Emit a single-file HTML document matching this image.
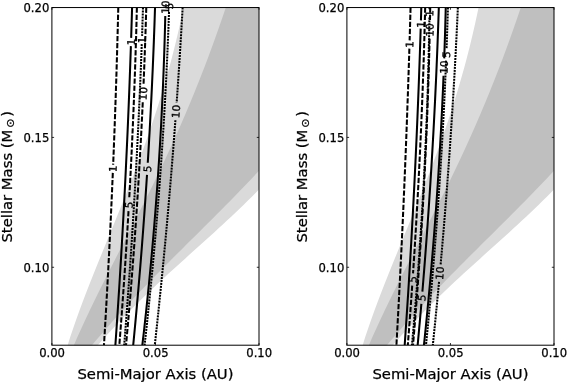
<!DOCTYPE html>
<html><head><meta charset="utf-8"><title>Habitable zone contours</title>
<style>
html,body{margin:0;padding:0;background:#fff;}
body{width:568px;height:382px;overflow:hidden;}
svg{display:block;font-family:"DejaVu Sans","Liberation Sans",sans-serif;}
</style></head><body>
<svg width="568" height="382" viewBox="0 0 568 382">
<rect width="568" height="382" fill="#fff"/>
<defs>
<clipPath id="c0"><rect x="51.9" y="7.55" width="207.1" height="337.65"/></clipPath>
<clipPath id="c1"><rect x="346.9" y="7.55" width="207.1" height="337.65"/></clipPath>
</defs>
<g clip-path="url(#c0)">
<polygon points="67.39,346.10 70.14,337.37 73.03,328.63 76.05,319.90 79.19,311.17 82.43,302.43 85.76,293.70 89.17,284.97 92.63,276.23 96.14,267.50 99.69,258.77 103.26,250.03 106.85,241.30 110.44,232.57 114.02,223.83 117.59,215.10 121.13,206.37 124.64,197.63 128.11,188.90 131.53,180.17 134.90,171.43 138.21,162.70 141.45,153.97 144.63,145.23 147.72,136.50 150.74,127.77 153.68,119.03 156.54,110.30 159.30,101.57 161.98,92.83 164.57,84.10 167.08,75.37 169.49,66.63 171.81,57.90 174.05,49.17 176.19,40.43 178.26,31.70 180.25,22.97 182.15,14.23 183.99,5.50 261.00,5.50 260.50,187.96 256.31,192.22 252.12,196.42 247.93,200.56 243.74,204.65 239.55,208.69 235.36,212.68 231.17,216.64 226.98,220.56 222.79,224.44 218.60,228.30 214.41,232.14 210.22,235.95 206.03,239.75 201.84,243.53 197.65,247.31 193.46,251.08 189.27,254.86 185.08,258.64 180.89,262.42 176.71,266.22 172.52,270.04 168.33,273.87 164.14,277.73 159.95,281.62 155.76,285.54 151.57,289.50 147.38,293.49 143.19,297.54 139.00,301.63 134.81,305.77 130.62,309.98 126.43,314.24 122.24,318.57 118.05,322.96 113.86,327.43 109.67,331.98 105.48,336.61 101.29,341.32 97.10,346.13" fill="#dadada"/>
<polygon points="73.53,346.10 77.30,337.37 81.20,328.63 85.22,319.90 89.34,311.17 93.55,302.43 97.84,293.70 102.18,284.97 106.58,276.23 111.01,267.50 115.46,258.77 119.93,250.03 124.41,241.30 128.88,232.57 133.34,223.83 137.77,215.10 142.17,206.37 146.54,197.63 150.86,188.90 155.14,180.17 159.36,171.43 163.52,162.70 167.61,153.97 171.64,145.23 175.60,136.50 179.49,127.77 183.30,119.03 187.04,110.30 190.70,101.57 194.29,92.83 197.80,84.10 201.25,75.37 204.62,66.63 207.92,57.90 211.15,49.17 214.33,40.43 217.44,31.70 220.51,22.97 223.53,14.23 226.50,5.50 261.00,5.50 260.50,169.11 256.16,173.78 251.81,178.41 247.47,183.00 243.13,187.54 238.78,192.04 234.44,196.51 230.09,200.95 225.75,205.36 221.41,209.75 217.06,214.11 212.72,218.46 208.38,222.79 204.03,227.11 199.69,231.42 195.35,235.72 191.00,240.03 186.66,244.33 182.32,248.64 177.97,252.96 173.63,257.30 169.28,261.64 164.94,266.01 160.60,270.40 156.25,274.81 151.91,279.25 147.57,283.72 143.22,288.23 138.88,292.77 134.54,297.36 130.19,301.99 125.85,306.67 121.51,311.41 117.16,316.19 112.82,321.04 108.47,325.95 104.13,330.92 99.79,335.96 95.44,341.08 91.10,346.26" fill="#bfbfbf"/>
</g>
<g clip-path="url(#c1)">
<polygon points="362.39,346.10 365.14,337.37 368.03,328.63 371.05,319.90 374.19,311.17 377.43,302.43 380.76,293.70 384.17,284.97 387.63,276.23 391.14,267.50 394.69,258.77 398.26,250.03 401.85,241.30 405.44,232.57 409.02,223.83 412.59,215.10 416.13,206.37 419.64,197.63 423.11,188.90 426.53,180.17 429.90,171.43 433.21,162.70 436.45,153.97 439.63,145.23 442.72,136.50 445.74,127.77 448.68,119.03 451.54,110.30 454.30,101.57 456.98,92.83 459.57,84.10 462.08,75.37 464.49,66.63 466.81,57.90 469.05,49.17 471.19,40.43 473.26,31.70 475.25,22.97 477.15,14.23 478.99,5.50 556.00,5.50 555.50,187.96 551.31,192.22 547.12,196.42 542.93,200.56 538.74,204.65 534.55,208.69 530.36,212.68 526.17,216.64 521.98,220.56 517.79,224.44 513.60,228.30 509.41,232.14 505.22,235.95 501.03,239.75 496.84,243.53 492.65,247.31 488.46,251.08 484.27,254.86 480.08,258.64 475.89,262.42 471.71,266.22 467.52,270.04 463.33,273.87 459.14,277.73 454.95,281.62 450.76,285.54 446.57,289.50 442.38,293.49 438.19,297.54 434.00,301.63 429.81,305.77 425.62,309.98 421.43,314.24 417.24,318.57 413.05,322.96 408.86,327.43 404.67,331.98 400.48,336.61 396.29,341.32 392.10,346.13" fill="#dadada"/>
<polygon points="368.53,346.10 372.30,337.37 376.20,328.63 380.22,319.90 384.34,311.17 388.55,302.43 392.84,293.70 397.18,284.97 401.58,276.23 406.01,267.50 410.46,258.77 414.93,250.03 419.41,241.30 423.88,232.57 428.34,223.83 432.77,215.10 437.17,206.37 441.54,197.63 445.86,188.90 450.14,180.17 454.36,171.43 458.52,162.70 462.61,153.97 466.64,145.23 470.60,136.50 474.49,127.77 478.30,119.03 482.04,110.30 485.70,101.57 489.29,92.83 492.80,84.10 496.25,75.37 499.62,66.63 502.92,57.90 506.15,49.17 509.33,40.43 512.44,31.70 515.51,22.97 518.53,14.23 521.50,5.50 556.00,5.50 555.50,169.11 551.16,173.78 546.81,178.41 542.47,183.00 538.13,187.54 533.78,192.04 529.44,196.51 525.09,200.95 520.75,205.36 516.41,209.75 512.06,214.11 507.72,218.46 503.38,222.79 499.03,227.11 494.69,231.42 490.35,235.72 486.00,240.03 481.66,244.33 477.32,248.64 472.97,252.96 468.63,257.30 464.28,261.64 459.94,266.01 455.60,270.40 451.25,274.81 446.91,279.25 442.57,283.72 438.22,288.23 433.88,292.77 429.54,297.36 425.19,301.99 420.85,306.67 416.51,311.41 412.16,316.19 407.82,321.04 403.47,325.95 399.13,330.92 394.79,335.96 390.44,341.08 386.10,346.26" fill="#bfbfbf"/>
</g>
<g clip-path="url(#c0)" fill="none" stroke="#000" stroke-width="2.05">
<path d="M118.28,7.55 L118.14,13.27 L117.99,19.00 L117.85,24.72 L117.70,30.44 L117.54,36.16 L117.39,41.89 L117.23,47.61 L117.06,53.33 L116.89,59.06 L116.72,64.78 L116.55,70.50 L116.37,76.22 L116.19,81.95 L116.00,87.67 L115.81,93.39 L115.62,99.12 L115.42,104.84 L115.22,110.56 L115.02,116.28 L114.81,122.01 L114.60,127.73 L114.39,133.45 L114.17,139.18 L113.95,144.90 L113.72,150.62 L113.49,156.34 L113.26,162.07 L113.15,164.70" stroke-dasharray="5.3 1.8"/>
<path d="M112.81,172.90 L112.79,173.51 L112.54,179.24 L112.30,184.96 L112.05,190.68 L111.79,196.41 L111.54,202.13 L111.28,207.85 L111.01,213.57 L110.75,219.30 L110.48,225.02 L110.20,230.74 L109.92,236.47 L109.64,242.19 L109.36,247.91 L109.07,253.63 L108.77,259.36 L108.48,265.08 L108.18,270.80 L107.88,276.53 L107.57,282.25 L107.26,287.97 L106.95,293.69 L106.63,299.42 L106.31,305.14 L105.98,310.86 L105.66,316.59 L105.32,322.31 L104.99,328.03 L104.65,333.75 L104.31,339.48 L103.96,345.20" stroke-dasharray="5.3 1.8"/>
<path d="M132.08,7.55 L131.92,13.27 L131.75,19.00 L131.57,24.72 L131.39,30.44 L131.21,36.16 L131.16,37.90" />
<path d="M130.89,46.10 L130.84,47.61 L130.64,53.33 L130.44,59.06 L130.24,64.78 L130.03,70.50 L129.82,76.22 L129.61,81.95 L129.39,87.67 L129.17,93.39 L128.94,99.12 L128.71,104.84 L128.48,110.56 L128.24,116.28 L128.00,122.01 L127.75,127.73 L127.50,133.45 L127.24,139.18 L126.98,144.90 L126.72,150.62 L126.45,156.34 L126.18,162.07 L125.91,167.79 L125.63,173.51 L125.35,179.24 L125.06,184.96 L124.77,190.68 L124.47,196.41 L124.17,202.13 L123.87,207.85 L123.56,213.57 L123.25,219.30 L122.93,225.02 L122.61,230.74 L122.29,236.47 L121.96,242.19 L121.63,247.91 L121.30,253.63 L120.96,259.36 L120.61,265.08 L120.26,270.80 L119.91,276.53 L119.56,282.25 L119.20,287.97 L118.83,293.69 L118.46,299.42 L118.09,305.14 L117.71,310.86 L117.33,316.59 L116.95,322.31 L116.56,328.03 L116.17,333.75 L115.77,339.48 L115.37,345.20" />
<path d="M136.89,7.55 L136.75,13.27 L136.60,19.00 L136.44,24.72 L136.28,30.44 L136.12,36.16 L135.95,41.89 L135.77,47.61 L135.59,53.33 L135.40,59.06 L135.21,64.78 L135.02,70.50 L134.81,76.22 L134.61,81.95 L134.39,87.67 L134.17,93.39 L133.95,99.12 L133.72,104.84 L133.49,110.56 L133.25,116.28 L133.00,122.01 L132.75,127.73 L132.50,133.45 L132.24,139.18 L131.97,144.90 L131.70,150.62 L131.42,156.34 L131.14,162.07 L130.85,167.79 L130.56,173.51 L130.26,179.24 L129.96,184.96 L129.65,190.68 L129.34,196.41 L129.20,198.90" stroke-dasharray="5.3 1.8"/>
<path d="M128.51,211.10 L128.37,213.57 L128.03,219.30 L127.69,225.02 L127.35,230.74 L126.99,236.47 L126.64,242.19 L126.28,247.91 L125.91,253.63 L125.54,259.36 L125.16,265.08 L124.78,270.80 L124.39,276.53 L124.00,282.25 L123.60,287.97 L123.20,293.69 L122.79,299.42 L122.37,305.14 L121.95,310.86 L121.53,316.59 L121.10,322.31 L120.66,328.03 L120.22,333.75 L119.78,339.48 L119.33,345.20" stroke-dasharray="5.3 1.8"/>
<path d="M142.99,7.55 L142.81,13.27 L142.63,19.00 L142.44,24.72 L142.24,30.44 L142.05,35.90" stroke-dasharray="2.0 0.97"/>
<path d="M141.76,44.10 L141.63,47.61 L141.42,53.33 L141.20,59.06 L140.97,64.78 L140.75,70.50 L140.51,76.22 L140.27,81.95 L140.03,87.67 L139.79,93.39 L139.53,99.12 L139.28,104.84 L139.01,110.56 L138.75,116.28 L138.48,122.01 L138.20,127.73 L137.92,133.45 L137.63,139.18 L137.34,144.90 L137.05,150.62 L136.75,156.34 L136.44,162.07 L136.14,167.79 L135.82,173.51 L135.50,179.24 L135.18,184.96 L134.85,190.68 L134.52,196.41 L134.18,202.13 L133.84,207.85 L133.49,213.57 L133.14,219.30 L132.78,225.02 L132.42,230.74 L132.05,236.47 L131.68,242.19 L131.30,247.91 L130.92,253.63 L130.54,259.36 L130.15,265.08 L129.75,270.80 L129.35,276.53 L128.95,282.25 L128.54,287.97 L128.12,293.69 L127.70,299.42 L127.28,305.14 L126.85,310.86 L126.42,316.59 L125.98,322.31 L125.54,328.03 L125.09,333.75 L124.64,339.48 L124.18,345.20" stroke-dasharray="2.0 0.97"/>
<path d="M146.27,7.55 L146.10,13.27 L145.93,19.00 L145.76,24.72 L145.57,30.44 L145.38,36.16 L145.19,41.89 L144.98,47.61 L144.78,53.33 L144.56,59.06 L144.34,64.78 L144.11,70.50 L143.88,76.22 L143.64,81.95 L143.52,84.90" stroke-dasharray="5.3 1.8"/>
<path d="M142.74,102.30 L142.63,104.84 L142.36,110.56 L142.08,116.28 L141.80,122.01 L141.51,127.73 L141.22,133.45 L140.92,139.18 L140.61,144.90 L140.30,150.62 L139.98,156.34 L139.66,162.07 L139.33,167.79 L138.99,173.51 L138.65,179.24 L138.30,184.96 L137.94,190.68 L137.58,196.41 L137.21,202.13 L136.84,207.85 L136.46,213.57 L136.07,219.30 L135.68,225.02 L135.28,230.74 L134.88,236.47 L134.47,242.19 L134.05,247.91 L133.63,253.63 L133.20,259.36 L132.76,265.08 L132.32,270.80 L131.88,276.53 L131.42,282.25 L130.96,287.97 L130.50,293.69 L130.02,299.42 L129.55,305.14 L129.06,310.86 L128.57,316.59 L128.08,322.31 L127.57,328.03 L127.06,333.75 L126.55,339.48 L126.03,345.20" stroke-dasharray="5.3 1.8"/>
<path d="M155.03,7.55 L154.84,13.27 L154.65,19.00 L154.46,24.72 L154.25,30.44 L154.04,36.16 L153.83,41.89 L153.60,47.61 L153.37,53.33 L153.14,59.06 L152.90,64.78 L152.65,70.50 L152.39,76.22 L152.13,81.95 L151.87,87.67 L151.59,93.39 L151.31,99.12 L151.02,104.84 L150.73,110.56 L150.43,116.28 L150.13,122.01 L149.81,127.73 L149.50,133.45 L149.17,139.18 L148.84,144.90 L148.50,150.62 L148.16,156.34 L147.81,162.07 L147.77,162.70" />
<path d="M147.00,174.90 L146.71,179.24 L146.34,184.96 L145.96,190.68 L145.57,196.41 L145.17,202.13 L144.77,207.85 L144.36,213.57 L143.95,219.30 L143.52,225.02 L143.10,230.74 L142.66,236.47 L142.22,242.19 L141.78,247.91 L141.32,253.63 L140.86,259.36 L140.40,265.08 L139.92,270.80 L139.45,276.53 L138.96,282.25 L138.47,287.97 L137.97,293.69 L137.47,299.42 L136.96,305.14 L136.44,310.86 L135.91,316.59 L135.38,322.31 L134.85,328.03 L134.31,333.75 L133.76,339.48 L133.20,345.20" />
<path d="M165.28,15.90 L165.21,19.00 L165.07,24.72 L164.92,30.44 L164.76,36.16 L164.59,41.89 L164.41,47.61 L164.23,53.33 L164.03,59.06 L163.82,64.78 L163.61,70.50 L163.38,76.22 L163.15,81.95 L162.91,87.67 L162.66,93.39 L162.40,99.12 L162.12,104.84 L161.84,110.56 L161.56,116.28 L161.26,122.01 L160.95,127.73 L160.63,133.45 L160.30,139.18 L159.97,144.90 L159.62,150.62 L159.27,156.34 L158.91,162.07 L158.53,167.79 L158.15,173.51 L157.76,179.24 L157.36,184.96 L156.95,190.68 L156.53,196.41 L156.10,202.13 L155.66,207.85 L155.21,213.57 L154.75,219.30 L154.29,225.02 L153.81,230.74 L153.33,236.47 L152.83,242.19 L152.33,247.91 L151.82,253.63 L151.29,259.36 L150.76,265.08 L150.22,270.80 L149.67,276.53 L149.11,282.25 L148.54,287.97 L147.96,293.69 L147.38,299.42 L146.78,305.14 L146.17,310.86 L145.56,316.59 L144.93,322.31 L144.30,328.03 L143.66,333.75 L143.00,339.48 L142.34,345.20" />
<path d="M169.02,12.00 L168.98,13.27 L168.77,19.00 L168.56,24.72 L168.34,30.44 L168.11,36.16 L167.87,41.89 L167.63,47.61 L167.38,53.33 L167.12,59.06 L166.85,64.78 L166.58,70.50 L166.30,76.22 L166.01,81.95 L165.71,87.67 L165.41,93.39 L165.10,99.12 L164.78,104.84 L164.45,110.56 L164.12,116.28 L163.78,122.01 L163.43,127.73 L163.07,133.45 L162.71,139.18 L162.34,144.90 L161.96,150.62 L161.57,156.34 L161.18,162.07 L160.78,167.79 L160.37,173.51 L159.95,179.24 L159.53,184.96 L159.09,190.68 L158.66,196.41 L158.21,202.13 L157.76,207.85 L157.29,213.57 L156.82,219.30 L156.35,225.02 L155.86,230.74 L155.37,236.47 L154.87,242.19 L154.37,247.91 L153.85,253.63 L153.33,259.36 L152.80,265.08 L152.26,270.80 L151.72,276.53 L151.17,282.25 L150.61,287.97 L150.04,293.69 L149.47,299.42 L148.88,305.14 L148.29,310.86 L147.70,316.59 L147.09,322.31 L146.48,328.03 L145.86,333.75 L145.23,339.48 L144.60,345.20" stroke-dasharray="2.0 0.97"/>
<path d="M182.63,7.55 L182.31,13.27 L181.99,19.00 L181.66,24.72 L181.33,30.44 L180.99,36.16 L180.64,41.89 L180.29,47.61 L179.94,53.33 L179.58,59.06 L179.21,64.78 L178.84,70.50 L178.47,76.22 L178.09,81.95 L177.70,87.67 L177.31,93.39 L176.91,99.12 L176.65,102.80" stroke-dasharray="2.0 0.97"/>
<path d="M175.40,120.20 L175.27,122.01 L174.85,127.73 L174.42,133.45 L173.98,139.18 L173.54,144.90 L173.10,150.62 L172.65,156.34 L172.19,162.07 L171.73,167.79 L171.26,173.51 L170.79,179.24 L170.31,184.96 L169.83,190.68 L169.34,196.41 L168.85,202.13 L168.35,207.85 L167.85,213.57 L167.34,219.30 L166.83,225.02 L166.31,230.74 L165.78,236.47 L165.25,242.19 L164.72,247.91 L164.17,253.63 L163.63,259.36 L163.08,265.08 L162.52,270.80 L161.96,276.53 L161.39,282.25 L160.82,287.97 L160.24,293.69 L159.65,299.42 L159.07,305.14 L158.47,310.86 L157.87,316.59 L157.27,322.31 L156.66,328.03 L156.04,333.75 L155.42,339.48 L154.79,345.20" stroke-dasharray="2.0 0.97"/>
</g>
<g clip-path="url(#c1)" fill="none" stroke="#000" stroke-width="2.05">
<path d="M410.56,7.55 L410.40,13.27 L410.24,19.00 L410.08,24.72 L409.91,30.44 L409.74,36.16 L409.62,40.40" stroke-dasharray="5.3 1.8"/>
<path d="M409.37,48.60 L409.22,53.33 L409.04,59.06 L408.86,64.78 L408.67,70.50 L408.48,76.22 L408.29,81.95 L408.09,87.67 L407.90,93.39 L407.70,99.12 L407.49,104.84 L407.29,110.56 L407.08,116.28 L406.87,122.01 L406.65,127.73 L406.44,133.45 L406.22,139.18 L405.99,144.90 L405.77,150.62 L405.54,156.34 L405.31,162.07 L405.07,167.79 L404.84,173.51 L404.60,179.24 L404.35,184.96 L404.11,190.68 L403.86,196.41 L403.61,202.13 L403.36,207.85 L403.10,213.57 L402.84,219.30 L402.58,225.02 L402.31,230.74 L402.04,236.47 L401.77,242.19 L401.50,247.91 L401.22,253.63 L400.94,259.36 L400.66,265.08 L400.37,270.80 L400.09,276.53 L399.80,282.25 L399.50,287.97 L399.21,293.69 L398.91,299.42 L398.60,305.14 L398.30,310.86 L397.99,316.59 L397.68,322.31 L397.37,328.03 L397.05,333.75 L396.73,339.48 L396.41,345.20" stroke-dasharray="5.3 1.8"/>
<path d="M421.30,7.55 L421.14,13.27 L420.97,19.00 L420.93,20.40" />
<path d="M420.68,28.60 L420.62,30.44 L420.44,36.16 L420.26,41.89 L420.07,47.61 L419.88,53.33 L419.68,59.06 L419.48,64.78 L419.27,70.50 L419.07,76.22 L418.85,81.95 L418.64,87.67 L418.41,93.39 L418.19,99.12 L417.96,104.84 L417.73,110.56 L417.49,116.28 L417.25,122.01 L417.00,127.73 L416.75,133.45 L416.50,139.18 L416.24,144.90 L415.98,150.62 L415.72,156.34 L415.45,162.07 L415.17,167.79 L414.90,173.51 L414.61,179.24 L414.33,184.96 L414.04,190.68 L413.74,196.41 L413.45,202.13 L413.14,207.85 L412.84,213.57 L412.53,219.30 L412.21,225.02 L411.89,230.74 L411.57,236.47 L411.25,242.19 L410.92,247.91 L410.58,253.63 L410.24,259.36 L409.90,265.08 L409.55,270.80 L409.20,276.53 L408.85,282.25 L408.49,287.97 L408.13,293.69 L407.76,299.42 L407.39,305.14 L407.01,310.86 L406.63,316.59 L406.25,322.31 L405.86,328.03 L405.47,333.75 L405.08,339.48 L404.68,345.20" />
<path d="M425.18,7.55 L425.04,13.27 L424.89,19.00 L424.74,24.72 L424.58,30.44 L424.42,36.16 L424.25,41.89 L424.08,47.61 L423.90,53.33 L423.72,59.06 L423.53,64.78 L423.33,70.50 L423.13,76.22 L422.93,81.95 L422.72,87.67 L422.50,93.39 L422.28,99.12 L422.05,104.84 L421.82,110.56 L421.59,116.28 L421.34,122.01 L421.10,127.73 L420.84,133.45 L420.59,139.18 L420.32,144.90 L420.06,150.62 L419.78,156.34 L419.50,162.07 L419.22,167.79 L418.93,173.51 L418.64,179.24 L418.34,184.96 L418.03,190.68 L417.72,196.41 L417.41,202.13 L417.08,207.85 L416.76,213.57 L416.43,219.30 L416.09,225.02 L415.75,230.74 L415.40,236.47 L415.05,242.19 L414.69,247.91 L414.33,253.63 L413.96,259.36 L413.59,265.08 L413.21,270.80 L413.03,273.40" stroke-dasharray="5.3 1.8"/>
<path d="M412.20,285.60 L412.04,287.97 L411.64,293.69 L411.23,299.42 L410.82,305.14 L410.41,310.86 L409.99,316.59 L409.56,322.31 L409.13,328.03 L408.69,333.75 L408.25,339.48 L407.80,345.20" stroke-dasharray="5.3 1.8"/>
<path d="M429.56,7.55 L429.54,9.20" stroke-dasharray="2.0 0.97"/>
<path d="M429.43,17.40 L429.40,19.00 L429.31,24.72 L429.21,30.44 L429.10,36.16 L428.98,41.89 L428.86,47.61 L428.73,53.33 L428.59,59.06 L428.45,64.78 L428.29,70.50 L428.13,76.22 L427.96,81.95 L427.79,87.67 L427.60,93.39 L427.41,99.12 L427.21,104.84 L427.00,110.56 L426.79,116.28 L426.57,122.01 L426.34,127.73 L426.10,133.45 L425.85,139.18 L425.60,144.90 L425.34,150.62 L425.07,156.34 L424.79,162.07 L424.51,167.79 L424.22,173.51 L423.92,179.24 L423.61,184.96 L423.30,190.68 L422.98,196.41 L422.65,202.13 L422.31,207.85 L421.97,213.57 L421.61,219.30 L421.25,225.02 L420.89,230.74 L420.51,236.47 L420.13,242.19 L419.74,247.91 L419.34,253.63 L418.93,259.36 L418.52,265.08 L418.10,270.80 L417.67,276.53 L417.23,282.25 L416.79,287.97 L416.34,293.69 L415.88,299.42 L415.41,305.14 L414.94,310.86 L414.45,316.59 L413.96,322.31 L413.47,328.03 L412.96,333.75 L412.45,339.48 L411.93,345.20" stroke-dasharray="2.0 0.97"/>
<path d="M430.22,7.55 L430.12,13.27 L430.01,19.00 L429.97,21.30" stroke-dasharray="5.3 1.8"/>
<path d="M429.59,38.70 L429.52,41.89 L429.38,47.61 L429.23,53.33 L429.08,59.06 L428.92,64.78 L428.75,70.50 L428.58,76.22 L428.40,81.95 L428.21,87.67 L428.02,93.39 L427.82,99.12 L427.61,104.84 L427.40,110.56 L427.18,116.28 L426.95,122.01 L426.72,127.73 L426.48,133.45 L426.24,139.18 L425.99,144.90 L425.73,150.62 L425.46,156.34 L425.19,162.07 L424.91,167.79 L424.63,173.51 L424.33,179.24 L424.04,184.96 L423.73,190.68 L423.42,196.41 L423.10,202.13 L422.78,207.85 L422.45,213.57 L422.11,219.30 L421.76,225.02 L421.41,230.74 L421.05,236.47 L420.69,242.19 L420.32,247.91 L419.94,253.63 L419.56,259.36 L419.17,265.08 L418.77,270.80 L418.37,276.53 L417.96,282.25 L417.54,287.97 L417.12,293.69 L416.68,299.42 L416.25,305.14 L415.80,310.86 L415.35,316.59 L414.90,322.31 L414.44,328.03 L413.97,333.75 L413.49,339.48 L413.01,345.20" stroke-dasharray="5.3 1.8"/>
<path d="M438.82,7.55 L438.63,13.27 L438.44,19.00 L438.24,24.72 L438.03,30.44 L437.82,36.16 L437.61,41.89 L437.39,47.61 L437.16,53.33 L436.92,59.06 L436.68,64.78 L436.44,70.50 L436.19,76.22 L435.93,81.95 L435.66,87.67 L435.39,93.39 L435.12,99.12 L434.84,104.84 L434.55,110.56 L434.26,116.28 L433.96,122.01 L433.65,127.73 L433.34,133.45 L433.02,139.18 L432.70,144.90 L432.37,150.62 L432.03,156.34 L431.69,162.07 L431.35,167.79 L430.99,173.51 L430.63,179.24 L430.27,184.96 L429.90,190.68 L429.52,196.41 L429.14,202.13 L428.75,207.85 L428.36,213.57 L427.96,219.30 L427.55,225.02 L427.14,230.74 L426.72,236.47 L426.30,242.19 L425.87,247.91 L425.43,253.63 L424.99,259.36 L424.54,265.08 L424.09,270.80 L423.63,276.53 L423.16,282.25 L422.69,287.97 L422.38,291.70" />
<path d="M421.35,303.90 L421.24,305.14 L420.74,310.86 L420.24,316.59 L419.74,322.31 L419.22,328.03 L418.70,333.75 L418.18,339.48 L417.65,345.20" />
<path d="M445.75,7.55 L445.61,13.27 L445.46,19.00 L445.30,24.72 L445.13,30.44 L444.96,36.16 L444.78,41.89 L444.59,47.61 L444.39,53.33 L444.21,58.40" />
<path d="M443.54,75.80 L443.52,76.22 L443.28,81.95 L443.04,87.67 L442.79,93.39 L442.53,99.12 L442.26,104.84 L441.98,110.56 L441.70,116.28 L441.41,122.01 L441.11,127.73 L440.80,133.45 L440.48,139.18 L440.16,144.90 L439.83,150.62 L439.49,156.34 L439.15,162.07 L438.79,167.79 L438.43,173.51 L438.06,179.24 L437.68,184.96 L437.30,190.68 L436.90,196.41 L436.50,202.13 L436.09,207.85 L435.68,213.57 L435.25,219.30 L434.82,225.02 L434.38,230.74 L433.93,236.47 L433.48,242.19 L433.01,247.91 L432.54,253.63 L432.06,259.36 L431.57,265.08 L431.08,270.80 L430.58,276.53 L430.06,282.25 L429.55,287.97 L429.02,293.69 L428.49,299.42 L427.94,305.14 L427.39,310.86 L426.84,316.59 L426.27,322.31 L425.70,328.03 L425.12,333.75 L424.53,339.48 L423.93,345.20" />
<path d="M447.93,7.55 L447.76,13.27 L447.58,19.00 L447.40,24.72 L447.21,30.44 L447.01,36.16 L446.81,41.89 L446.60,47.61 L446.57,48.40" stroke-dasharray="2.0 0.97"/>
<path d="M446.10,60.60 L445.93,64.78 L445.69,70.50 L445.44,76.22 L445.19,81.95 L444.93,87.67 L444.66,93.39 L444.39,99.12 L444.11,104.84 L443.82,110.56 L443.52,116.28 L443.22,122.01 L442.91,127.73 L442.60,133.45 L442.28,139.18 L441.95,144.90 L441.61,150.62 L441.26,156.34 L440.91,162.07 L440.56,167.79 L440.19,173.51 L439.82,179.24 L439.44,184.96 L439.05,190.68 L438.66,196.41 L438.26,202.13 L437.85,207.85 L437.44,213.57 L437.02,219.30 L436.59,225.02 L436.15,230.74 L435.71,236.47 L435.26,242.19 L434.81,247.91 L434.34,253.63 L433.87,259.36 L433.40,265.08 L432.91,270.80 L432.42,276.53 L431.92,282.25 L431.42,287.97 L430.90,293.69 L430.38,299.42 L429.86,305.14 L429.33,310.86 L428.78,316.59 L428.24,322.31 L427.68,328.03 L427.12,333.75 L426.55,339.48 L425.98,345.20" stroke-dasharray="2.0 0.97"/>
<path d="M457.87,7.55 L457.61,13.27 L457.35,19.00 L457.08,24.72 L456.80,30.44 L456.52,36.16 L456.23,41.89 L455.94,47.61 L455.64,53.33 L455.34,59.06 L455.03,64.78 L454.71,70.50 L454.39,76.22 L454.06,81.95 L453.73,87.67 L453.39,93.39 L453.04,99.12 L452.69,104.84 L452.34,110.56 L451.98,116.28 L451.61,122.01 L451.24,127.73 L450.86,133.45 L450.47,139.18 L450.08,144.90 L449.69,150.62 L449.29,156.34 L448.88,162.07 L448.46,167.79 L448.05,173.51 L447.62,179.24 L447.19,184.96 L446.75,190.68 L446.31,196.41 L445.87,202.13 L445.41,207.85 L444.95,213.57 L444.49,219.30 L444.02,225.02 L443.54,230.74 L443.06,236.47 L442.57,242.19 L442.08,247.91 L441.58,253.63 L441.07,259.36 L440.62,264.50" stroke-dasharray="2.0 0.97"/>
<path d="M439.03,281.90 L439.00,282.25 L438.46,287.97 L437.93,293.69 L437.38,299.42 L436.83,305.14 L436.27,310.86 L435.71,316.59 L435.14,322.31 L434.57,328.03 L433.99,333.75 L433.40,339.48 L432.81,345.20" stroke-dasharray="2.0 0.97"/>
</g>
<g font-size="10.5" fill="#000" stroke="#000" stroke-width="0.3">
<text x="112.98" y="168.80" transform="rotate(-87.6 112.98 168.80)" text-anchor="middle" dy="0.36em">1</text>
<text x="131.02" y="42.00" transform="rotate(-88.1 131.02 42.00)" text-anchor="middle" dy="0.36em">1</text>
<text x="128.86" y="205.00" transform="rotate(-86.8 128.86 205.00)" text-anchor="middle" dy="0.36em">5</text>
<text x="141.91" y="40.00" transform="rotate(-87.9 141.91 40.00)" text-anchor="middle" dy="0.36em">1</text>
<text x="143.14" y="93.60" transform="rotate(-87.5 143.14 93.60)" text-anchor="middle" dy="0.36em">10</text>
<text x="147.38" y="168.80" transform="rotate(-86.4 147.38 168.80)" text-anchor="middle" dy="0.36em">5</text>
<text x="165.47" y="7.20" transform="rotate(-88.8 165.47 7.20)" text-anchor="middle" dy="0.36em">10</text>
<text x="169.23" y="5.90" transform="rotate(-88.1 169.23 5.90)" text-anchor="middle" dy="0.36em">5</text>
<text x="176.03" y="111.50" transform="rotate(-85.9 176.03 111.50)" text-anchor="middle" dy="0.36em">10</text>
<text x="409.49" y="44.50" transform="rotate(-88.3 409.49 44.50)" text-anchor="middle" dy="0.36em">1</text>
<text x="420.80" y="24.50" transform="rotate(-88.3 420.80 24.50)" text-anchor="middle" dy="0.36em">1</text>
<text x="412.62" y="279.50" transform="rotate(-86.1 412.62 279.50)" text-anchor="middle" dy="0.36em">5</text>
<text x="429.49" y="13.30" transform="rotate(-89.2 429.49 13.30)" text-anchor="middle" dy="0.36em">1</text>
<text x="429.79" y="30.00" transform="rotate(-88.8 429.79 30.00)" text-anchor="middle" dy="0.36em">10</text>
<text x="421.87" y="297.80" transform="rotate(-85.2 421.87 297.80)" text-anchor="middle" dy="0.36em">5</text>
<text x="443.88" y="67.10" transform="rotate(-87.8 443.88 67.10)" text-anchor="middle" dy="0.36em">10</text>
<text x="446.34" y="54.50" transform="rotate(-87.8 446.34 54.50)" text-anchor="middle" dy="0.36em">5</text>
<text x="439.83" y="273.20" transform="rotate(-84.8 439.83 273.20)" text-anchor="middle" dy="0.36em">10</text>
</g>
<rect x="51.9" y="7.55" width="207.1" height="337.65" fill="none" stroke="#000" stroke-width="1"/>
<path d="M51.9,345.2 v-2.2 M51.9,7.55 v2.2" stroke="#000" stroke-width="0.8"/>
<path d="M155.45,345.2 v-2.2 M155.45,7.55 v2.2" stroke="#000" stroke-width="0.8"/>
<path d="M259.0,345.2 v-2.2 M259.0,7.55 v2.2" stroke="#000" stroke-width="0.8"/>
<path d="M51.9,267.28 h2.2 M259.0,267.28 h-2.2" stroke="#000" stroke-width="0.8"/>
<path d="M51.9,137.42 h2.2 M259.0,137.42 h-2.2" stroke="#000" stroke-width="0.8"/>
<path d="M51.9,7.55 h2.2 M259.0,7.55 h-2.2" stroke="#000" stroke-width="0.8"/>
<rect x="346.9" y="7.55" width="207.1" height="337.65" fill="none" stroke="#000" stroke-width="1"/>
<path d="M346.9,345.2 v-2.2 M346.9,7.55 v2.2" stroke="#000" stroke-width="0.8"/>
<path d="M450.45,345.2 v-2.2 M450.45,7.55 v2.2" stroke="#000" stroke-width="0.8"/>
<path d="M554.0,345.2 v-2.2 M554.0,7.55 v2.2" stroke="#000" stroke-width="0.8"/>
<path d="M346.9,267.28 h2.2 M554.0,267.28 h-2.2" stroke="#000" stroke-width="0.8"/>
<path d="M346.9,137.42 h2.2 M554.0,137.42 h-2.2" stroke="#000" stroke-width="0.8"/>
<path d="M346.9,7.55 h2.2 M554.0,7.55 h-2.2" stroke="#000" stroke-width="0.8"/>
<g font-size="11.6" fill="#000" stroke="#000" stroke-width="0.25">
<text x="52.10" y="357.1" text-anchor="middle">0.00</text>
<text x="155.65" y="357.1" text-anchor="middle">0.05</text>
<text x="259.20" y="357.1" text-anchor="middle">0.10</text>
<text x="49.30" y="271.78" text-anchor="end">0.10</text>
<text x="49.30" y="141.92" text-anchor="end">0.15</text>
<text x="49.30" y="12.05" text-anchor="end">0.20</text>
<text x="347.10" y="357.1" text-anchor="middle">0.00</text>
<text x="450.65" y="357.1" text-anchor="middle">0.05</text>
<text x="554.20" y="357.1" text-anchor="middle">0.10</text>
<text x="344.30" y="271.78" text-anchor="end">0.10</text>
<text x="344.30" y="141.92" text-anchor="end">0.15</text>
<text x="344.30" y="12.05" text-anchor="end">0.20</text>
</g>
<g font-size="14.8" fill="#000" stroke="#000" stroke-width="0.25">
<text x="155.45" y="379" text-anchor="middle">Semi-Major Axis (AU)</text>
<text x="11.70" y="176.7" text-anchor="middle" transform="rotate(-90 11.70 176.7)">Stellar Mass (M<tspan font-size="11" dx="1.8" dy="1.9">⊙</tspan><tspan dx="2.0" dy="-1.9">)</tspan></text>
<text x="450.45" y="379" text-anchor="middle">Semi-Major Axis (AU)</text>
<text x="306.70" y="176.7" text-anchor="middle" transform="rotate(-90 306.70 176.7)">Stellar Mass (M<tspan font-size="11" dx="1.8" dy="1.9">⊙</tspan><tspan dx="2.0" dy="-1.9">)</tspan></text>
</g>
</svg>
</body></html>
